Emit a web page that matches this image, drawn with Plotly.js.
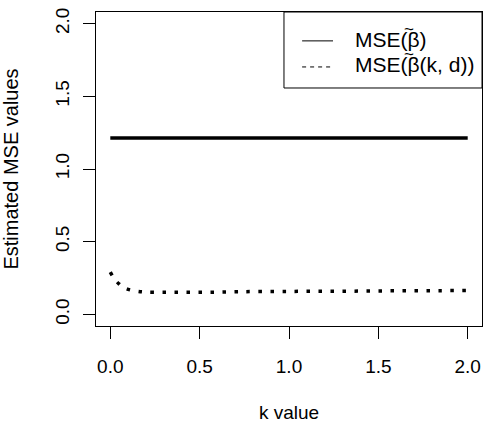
<!DOCTYPE html>
<html>
<head>
<meta charset="utf-8">
<script src="https://cdn.plot.ly/plotly-3.0.1.min.js"></script>
<style>
  body { margin: 0; background: #fff; }
  #chart { width: 489px; height: 423px; }
</style>
</head>
<body>
<div id="chart"></div>
<script>
// k grid and estimated MSE values
var kValues = [0, 0.025, 0.05, 0.075, 0.1, 0.15, 0.2, 0.3, 0.4, 0.5, 0.6, 0.7, 0.8, 1.0, 1.2, 1.4, 1.6, 1.8, 2.0];
var mseTilde = [1.214, 1.214, 1.214, 1.214, 1.214, 1.214, 1.214, 1.214, 1.214, 1.214, 1.214, 1.214, 1.214, 1.214, 1.214, 1.214, 1.214, 1.214, 1.214];
var mseKd = [0.29, 0.24, 0.208, 0.185, 0.172, 0.159, 0.153, 0.152, 0.152, 0.152, 0.153, 0.155, 0.157, 0.158, 0.159, 0.160, 0.162, 0.163, 0.164];
var legendLabels = ['MSE(\u03B2)', 'MSE(\u03B2(k, d))'];
var xTicks = [0, 0.5, 1, 1.5, 2];
var yTicks = [0, 0.5, 1, 1.5, 2];

var font = 'Liberation Sans, Arial, sans-serif';

var data = [{
  x: kValues,
  y: mseTilde,
  type: 'scatter',
  mode: 'lines',
  line: { color: '#000', width: 3.5 },
  hoverinfo: 'skip'
}, {
  x: kValues,
  y: mseKd,
  type: 'scatter',
  mode: 'lines',
  line: { color: '#000', width: 3.5, dash: '3.5px,8.5px', shape: 'spline' },
  hoverinfo: 'skip'
}];

// hand-drawn legend box like R's legend(); the tilde over beta is its own label
var rowY = [0.908, 0.825];
var textY = [0.912, 0.832];
var tildeY = [0.944, 0.865];
var shapes = [{
  type: 'rect', xref: 'paper', yref: 'paper',
  x0: 0.487, x1: 1, y0: 0.758, y1: 1,
  line: { color: '#000', width: 1 }
}];
var annotations = [];
var dashes = ['solid', '4px,4px'];
for (var i = 0; i < legendLabels.length; i++) {
  shapes.push({
    type: 'line', xref: 'paper', yref: 'paper',
    x0: 0.534, x1: 0.614, y0: rowY[i], y1: rowY[i],
    line: { color: '#000', width: 1, dash: dashes[i] }
  });
  annotations.push({
    xref: 'paper', yref: 'paper', x: 0.665, y: textY[i],
    xanchor: 'left', yanchor: 'middle', showarrow: false,
    text: legendLabels[i],
    font: { family: font, size: 21, color: '#000' }
  });
  annotations.push({
    xref: 'paper', yref: 'paper', x: 0.81, y: tildeY[i],
    xanchor: 'center', yanchor: 'middle', showarrow: false,
    text: '~',
    font: { family: font, size: 17, color: '#000' }
  });
}

var layout = {
  width: 489,
  height: 423,
  margin: { l: 96, r: 7, t: 12, b: 97 },
  paper_bgcolor: '#fff',
  plot_bgcolor: '#fff',
  showlegend: false,
  font: { family: font, size: 19, color: '#000' },
  xaxis: {
    range: [-0.08, 2.08],
    tickvals: xTicks,
    ticktext: xTicks.map(function (v) { return v.toFixed(1); }),
    ticks: 'outside', ticklen: 12, tickwidth: 1, tickcolor: '#000',
    showline: true, mirror: true, linecolor: '#000', linewidth: 1,
    showgrid: false, zeroline: false,
    ticklabelstandoff: 11,
    title: { text: 'k value', standoff: 29, font: { size: 19 } }
  },
  yaxis: {
    range: [-0.08, 2.08],
    tickvals: yTicks,
    ticktext: yTicks.map(function (v) { return v.toFixed(1); }),
    tickangle: -90,
    ticks: 'outside', ticklen: 12, tickwidth: 1, tickcolor: '#000',
    showline: true, mirror: true, linecolor: '#000', linewidth: 1,
    showgrid: false, zeroline: false,
    ticklabelstandoff: 6,
    title: { text: 'Estimated MSE values', standoff: 28, font: { size: 20 } }
  },
  shapes: shapes,
  annotations: annotations
};

Plotly.newPlot('chart', data, layout, { displayModeBar: false, staticPlot: true });
</script>
</body>
</html>
